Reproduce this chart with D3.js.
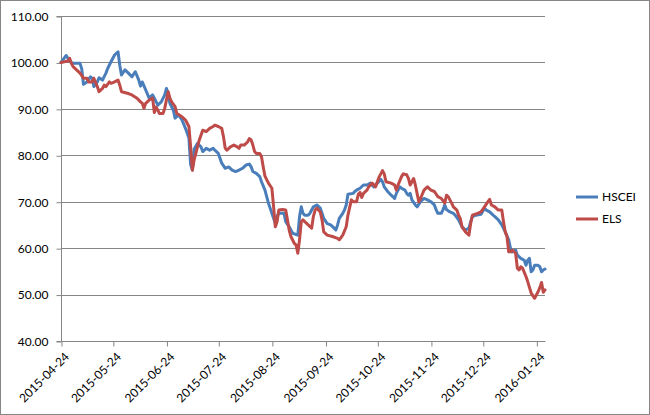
<!DOCTYPE html>
<html><head><meta charset="utf-8">
<script src="https://cdn.jsdelivr.net/npm/d3@7/dist/d3.min.js"></script>
<style>body{margin:0;background:#fff}svg{display:block}text{font-family:Lato,"Open Sans",sans-serif;fill:#000}</style>
</head><body><svg id="c" width="650" height="415"></svg>
<script>
const xTickLabels = ["2015-04-24","2015-05-24","2015-06-24","2015-07-24","2015-08-24","2015-09-24","2015-10-24","2015-11-24","2015-12-24","2016-01-24"];
const yTicks = [40,50,60,70,80,90,100,110];
const seriesNames = ["HSCEI","ELS"];

const hsceiDates = ["2015-04-24","2015-04-27","2015-04-28","2015-04-29","2015-05-01","2015-05-05","2015-05-06","2015-05-07","2015-05-09","2015-05-11","2015-05-12","2015-05-13","2015-05-15","2015-05-16","2015-05-18","2015-05-20","2015-05-21","2015-05-23","2015-05-25","2015-05-27","2015-05-28","2015-05-29","2015-05-31","2015-06-02","2015-06-04","2015-06-06","2015-06-08","2015-06-09","2015-06-10","2015-06-12","2015-06-14","2015-06-16","2015-06-17","2015-06-19","2015-06-21","2015-06-23","2015-06-24","2015-06-25","2015-06-26","2015-06-28","2015-06-29","2015-07-01","2015-07-03","2015-07-05","2015-07-07","2015-07-08","2015-07-09","2015-07-10","2015-07-12","2015-07-14","2015-07-15","2015-07-17","2015-07-19","2015-07-21","2015-07-22","2015-07-24","2015-07-26","2015-07-28","2015-07-30","2015-08-01","2015-08-03","2015-08-05","2015-08-07","2015-08-09","2015-08-11","2015-08-12","2015-08-13","2015-08-15","2015-08-17","2015-08-18","2015-08-20","2015-08-22","2015-08-24","2015-08-26","2015-08-27","2015-08-28","2015-08-31","2015-09-01","2015-09-03","2015-09-05","2015-09-08","2015-09-09","2015-09-10","2015-09-11","2015-09-12","2015-09-14","2015-09-15","2015-09-17","2015-09-19","2015-09-21","2015-09-22","2015-09-23","2015-09-25","2015-09-27","2015-09-29","2015-09-30","2015-10-01","2015-10-02","2015-10-04","2015-10-05","2015-10-06","2015-10-07","2015-10-10","2015-10-11","2015-10-12","2015-10-14","2015-10-16","2015-10-18","2015-10-20","2015-10-22","2015-10-24","2015-10-26","2015-10-27","2015-10-28","2015-10-30","2015-11-01","2015-11-03","2015-11-04","2015-11-06","2015-11-07","2015-11-09","2015-11-10","2015-11-11","2015-11-12","2015-11-13","2015-11-15","2015-11-16","2015-11-18","2015-11-20","2015-11-22","2015-11-24","2015-11-26","2015-11-27","2015-11-28","2015-11-30","2015-12-01","2015-12-02","2015-12-03","2015-12-05","2015-12-07","2015-12-08","2015-12-10","2015-12-12","2015-12-14","2015-12-16","2015-12-17","2015-12-18","2015-12-20","2015-12-23","2015-12-25","2015-12-26","2015-12-28","2015-12-30","2015-12-31","2016-01-02","2016-01-04","2016-01-06","2016-01-08","2016-01-09","2016-01-10","2016-01-12","2016-01-13","2016-01-15","2016-01-17","2016-01-18","2016-01-19","2016-01-20","2016-01-21","2016-01-22","2016-01-23","2016-01-25","2016-01-26","2016-01-27","2016-01-28","2016-01-29"];
const hsceiValues = [100.0,101.5,100.9,100.2,99.8,99.8,98.6,95.3,95.8,96.9,96.6,94.8,95.8,96.7,96.2,97.7,98.7,100.2,101.6,102.3,99.4,97.3,98.4,97.7,96.9,98.0,96.2,94.9,95.8,94.1,92.3,93.0,92.3,90.8,91.5,93.0,94.4,93.3,91.2,89.7,88.0,88.7,87.6,85.8,83.7,78.0,76.8,81.3,82.6,81.8,80.8,81.5,81.1,81.5,81.1,80.4,78.3,77.2,77.5,76.8,76.5,76.8,77.2,77.9,78.1,77.5,76.5,76.1,75.4,74.3,72.5,69.7,67.5,65.3,66.8,67.5,67.5,65.7,64.6,63.2,62.8,66.8,68.9,67.5,67.1,67.1,67.5,68.9,69.3,68.6,67.5,66.4,65.3,65.0,64.3,63.9,65.0,66.4,67.5,68.2,69.3,71.6,71.8,72.2,72.5,72.9,73.6,73.6,74.0,73.2,74.0,74.8,74.3,73.2,72.2,71.4,70.7,71.8,73.2,72.9,72.5,71.8,71.4,71.8,70.4,69.3,68.9,70.0,70.7,70.4,70.0,69.3,68.3,67.5,67.5,68.3,69.3,68.3,67.8,67.5,67.1,66.1,64.6,63.9,64.3,65.7,66.8,67.1,67.3,68.6,68.2,67.8,67.1,66.8,66.1,65.0,63.5,61.8,60.0,59.2,59.6,58.5,57.8,57.4,56.3,57.4,57.8,54.9,55.3,56.3,56.3,56.0,54.9,55.3,55.5];

const elsDates = ["2015-04-24","2015-04-28","2015-04-29","2015-04-30","2015-05-01","2015-05-03","2015-05-05","2015-05-07","2015-05-09","2015-05-10","2015-05-12","2015-05-13","2015-05-15","2015-05-16","2015-05-18","2015-05-19","2015-05-20","2015-05-22","2015-05-23","2015-05-25","2015-05-27","2015-05-28","2015-05-29","2015-06-02","2015-06-04","2015-06-07","2015-06-09","2015-06-10","2015-06-11","2015-06-12","2015-06-14","2015-06-16","2015-06-17","2015-06-18","2015-06-20","2015-06-22","2015-06-23","2015-06-25","2015-06-26","2015-06-27","2015-06-29","2015-06-30","2015-07-03","2015-07-05","2015-07-07","2015-07-08","2015-07-09","2015-07-10","2015-07-11","2015-07-13","2015-07-15","2015-07-17","2015-07-19","2015-07-21","2015-07-22","2015-07-24","2015-07-26","2015-07-27","2015-07-28","2015-07-29","2015-07-31","2015-08-02","2015-08-04","2015-08-05","2015-08-06","2015-08-08","2015-08-10","2015-08-11","2015-08-12","2015-08-13","2015-08-14","2015-08-15","2015-08-17","2015-08-18","2015-08-19","2015-08-20","2015-08-22","2015-08-24","2015-08-25","2015-08-26","2015-08-27","2015-08-28","2015-08-30","2015-09-01","2015-09-02","2015-09-03","2015-09-04","2015-09-06","2015-09-07","2015-09-08","2015-09-09","2015-09-10","2015-09-11","2015-09-12","2015-09-14","2015-09-16","2015-09-17","2015-09-18","2015-09-19","2015-09-21","2015-09-22","2015-09-23","2015-09-25","2015-09-28","2015-10-01","2015-10-02","2015-10-04","2015-10-06","2015-10-07","2015-10-09","2015-10-10","2015-10-12","2015-10-13","2015-10-14","2015-10-15","2015-10-16","2015-10-18","2015-10-19","2015-10-21","2015-10-23","2015-10-25","2015-10-26","2015-10-27","2015-10-28","2015-10-29","2015-11-01","2015-11-03","2015-11-04","2015-11-05","2015-11-07","2015-11-08","2015-11-10","2015-11-11","2015-11-12","2015-11-13","2015-11-14","2015-11-15","2015-11-16","2015-11-17","2015-11-18","2015-11-20","2015-11-22","2015-11-24","2015-11-26","2015-11-28","2015-11-30","2015-12-02","2015-12-03","2015-12-04","2015-12-06","2015-12-07","2015-12-09","2015-12-10","2015-12-11","2015-12-12","2015-12-14","2015-12-16","2015-12-17","2015-12-18","2015-12-21","2015-12-23","2015-12-25","2015-12-27","2015-12-28","2015-12-29","2015-12-31","2016-01-02","2016-01-04","2016-01-05","2016-01-06","2016-01-07","2016-01-08","2016-01-09","2016-01-10","2016-01-12","2016-01-13","2016-01-14","2016-01-15","2016-01-16","2016-01-18","2016-01-19","2016-01-21","2016-01-23","2016-01-25","2016-01-26","2016-01-27","2016-01-28","2016-01-29"];
const elsValues = [100.0,100.3,100.9,99.8,99.1,98.4,97.7,96.6,96.6,95.8,95.8,96.6,94.8,93.7,94.4,95.1,94.8,95.8,95.5,95.8,96.2,95.1,93.7,93.3,93.0,92.3,91.5,91.2,90.1,91.2,91.9,92.3,89.2,90.4,89.0,89.0,90.1,93.7,92.3,91.5,90.5,89.0,88.3,87.6,86.2,81.8,76.8,79.0,80.4,83.3,85.4,85.1,85.8,86.2,86.5,86.2,85.8,84.0,81.5,81.1,81.8,82.2,81.8,81.5,82.2,82.2,82.9,83.6,83.3,82.2,80.8,80.4,80.4,79.7,77.5,75.5,74.0,72.9,68.9,64.6,65.7,68.2,68.3,68.2,66.1,63.9,62.5,61.0,60.7,58.9,61.8,65.7,66.1,65.7,65.0,64.3,66.8,68.2,68.6,67.8,66.1,63.5,62.8,62.5,62.1,61.8,62.8,64.6,67.1,70.4,70.0,70.0,71.6,72.0,70.9,71.8,72.5,73.2,74.0,73.2,75.3,76.0,76.7,76.0,74.3,74.0,73.6,72.5,73.6,75.4,76.0,75.8,75.0,73.6,74.3,75.0,73.6,71.8,70.0,70.7,72.5,73.2,72.5,72.2,71.1,70.7,69.7,71.4,71.1,69.7,68.9,68.2,67.1,66.4,64.6,63.5,62.8,65.3,67.1,67.5,67.8,68.9,70.0,70.5,69.3,68.9,68.2,68.2,65.7,63.5,62.5,59.2,59.2,59.6,58.9,55.7,55.3,56.0,55.7,53.9,52.8,50.3,49.2,50.6,51.5,52.6,50.5,51.0];

const colors = ["#4A7EBB","#BE4B48"];
const parse = d3.timeParse("%Y-%m-%d");
const svg = d3.select("#c");

svg.append("rect").attr("x",0.5).attr("y",0.5).attr("width",649).attr("height",414)
  .attr("fill","#fff").attr("stroke","#868686");

const L = 61, R = 545, T = 16, B = 341;
const x = d3.scaleTime().domain([parse("2015-04-24"), parse("2016-01-29")]).range([L, R]);
const y = d3.scaleLinear().domain([40,110]).range([B, T]);

// gridlines
svg.append("g").selectAll("line").data(yTicks.filter(v=>v>40)).join("line")
  .attr("x1",L).attr("x2",R).attr("y1",d=>Math.round(y(d))+0.5).attr("y2",d=>Math.round(y(d))+0.5)
  .attr("stroke","#868686").attr("stroke-width",1);

// y axis
const yAxis = d3.axisLeft(y).tickValues(yTicks).tickFormat(d3.format(".2f")).tickSize(5).tickPadding(8);
const gy = svg.append("g").attr("transform",`translate(${L+0.5},0.5)`).call(yAxis);
gy.select(".domain").attr("stroke","#868686").attr("d",`M-5,${y(40)}H0V${y(110)}H-5`);
gy.selectAll(".tick line").attr("stroke","#868686");
gy.selectAll(".tick text").style("font-size","12px").style("font-family","Lato, sans-serif").attr("fill","#000");

// x axis
const xAxis = d3.axisBottom(x).tickValues(xTickLabels.map(parse)).tickFormat(d3.timeFormat("%Y-%m-%d")).tickSize(5);
const gx = svg.append("g").attr("transform",`translate(0.5,${B+0.5})`).call(xAxis);
gx.select(".domain").attr("stroke","#868686").attr("d",`M${L},0H${R}`);
gx.selectAll(".tick line").attr("stroke","#868686");
gx.selectAll(".tick text").style("font-size","12px").style("font-family","Lato, sans-serif").attr("fill","#000")
  .attr("text-anchor","end").attr("dy",null).attr("y",0).attr("transform","translate(8,16) rotate(-45)");

// lines
const line = d3.line().x(d=>x(d[0])).y(d=>y(d[1])).curve(d3.curveLinear);
const series = [
  hsceiDates.map((d,i)=>[parse(d), hsceiValues[i]]),
  elsDates.map((d,i)=>[parse(d), elsValues[i]])
];
series.forEach((s,i)=>{
  svg.append("path").datum(s).attr("d",line).attr("fill","none")
    .attr("stroke",colors[i]).attr("stroke-width",3).attr("stroke-linejoin","round").attr("stroke-linecap","round");
});

// legend
const lg = svg.append("g");
seriesNames.forEach((n,i)=>{
  const yy = 197 + i*22;
  lg.append("line").attr("x1",576).attr("x2",598).attr("y1",yy).attr("y2",yy)
    .attr("stroke",colors[i]).attr("stroke-width",3);
  lg.append("text").attr("x",602).attr("y",yy).attr("dy","0.35em").style("font-size","12px").text(n);
});
</script></body></html>
